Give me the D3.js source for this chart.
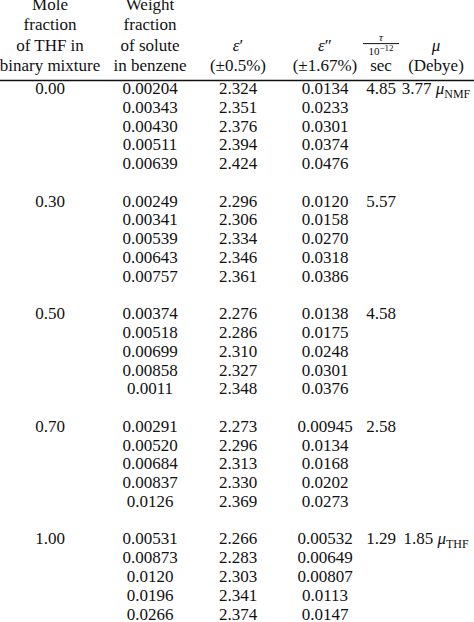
<!DOCTYPE html><html><head><meta charset="utf-8"><script src="https://cdn.jsdelivr.net/npm/d3@7"></script>
<style>body{margin:0;background:#fff}text{font-family:"Liberation Serif","Times New Roman",Times,"DejaVu Serif",serif;font-size:17px;fill:#111}</style></head><body><svg id="c" width="474" height="622"></svg><script>
const moleFractions=["0.00","0.30","0.50","0.70","1.00"];
const weightFractions=[["0.00204","0.00343","0.00430","0.00511","0.00639"],["0.00249","0.00341","0.00539","0.00643","0.00757"],["0.00374","0.00518","0.00699","0.00858","0.0011"],["0.00291","0.00520","0.00684","0.00837","0.0126"],["0.00531","0.00873","0.0120","0.0196","0.0266"]];
const epsPrime=[["2.324","2.351","2.376","2.394","2.424"],["2.296","2.306","2.334","2.346","2.361"],["2.276","2.286","2.310","2.327","2.348"],["2.273","2.296","2.313","2.330","2.369"],["2.266","2.283","2.303","2.341","2.374"]];
const epsDouble=[["0.0134","0.0233","0.0301","0.0374","0.0476"],["0.0120","0.0158","0.0270","0.0318","0.0386"],["0.0138","0.0175","0.0248","0.0301","0.0376"],["0.00945","0.0134","0.0168","0.0202","0.0273"],["0.00532","0.00649","0.00807","0.0113","0.0147"]];
const tau=["4.85","5.57","4.58","2.58","1.29"];
const mu=[["3.77","NMF"],null,null,null,["1.85","THF"]];
const cols=["mole","weight","ep","epp","tau","mu"];
const x=d3.scaleOrdinal().domain(cols).range([50,150,238,325,381,436]);
const yRow=d3.scaleLinear().domain([0,1]).range([0,18.8]);
const yGroup=d3.scaleLinear().domain([0,1]).range([94,206.6]);
const svg=d3.select("#c");
const hy=d3.scaleLinear().domain([0,1]).range([10,10+20.3]);
const headers=[["mole",["Mole","fraction","of THF in","binary mixture"]],["weight",["Weight","fraction","of solute","in benzene"]]];
headers.forEach(([k,lines])=>lines.forEach((l,i)=>svg.append("text").attr("x",x(k)).attr("y",hy(i)).attr("text-anchor","middle").text(l)));
function hdr(k,i,f){const t=svg.append("text").attr("x",x(k)).attr("y",hy(i)).attr("text-anchor","middle");f(t);}
hdr("ep",2,t=>{t.append("tspan").attr("font-style","italic").text("ε");t.append("tspan").text("′");});
hdr("ep",3,t=>t.text("(±0.5%)"));
hdr("epp",2,t=>{t.append("tspan").attr("font-style","italic").text("ε");t.append("tspan").text("″");});
hdr("epp",3,t=>t.text("(±1.67%)"));
hdr("mu",2,t=>t.attr("font-style","italic").text("μ"));
hdr("mu",3,t=>t.text("(Debye)"));
svg.append("text").attr("x",x("tau")).attr("y",hy(2)-10).attr("text-anchor","middle").style("font-size","11px").attr("font-style","italic").text("τ");
svg.append("line").attr("x1",x("tau")-18).attr("x2",x("tau")+18).attr("y1",hy(2)-7).attr("y2",hy(2)-7).attr("stroke","#111");
const tt=svg.append("text").attr("x",x("tau")).attr("y",hy(2)+4).attr("text-anchor","middle").style("font-size","11px");tt.append("tspan").text("10");tt.append("tspan").attr("dy",-4).style("font-size","9px").text("−12");
hdr("tau",3,t=>t.text("sec"));
svg.append("line").attr("x1",0).attr("x2",474).attr("y1",80.5).attr("y2",80.5).attr("stroke","#111").attr("stroke-width",1.3);
moleFractions.forEach((m,g)=>{
 const y0=yGroup(g);
 svg.append("text").attr("x",x("mole")).attr("y",y0).attr("text-anchor","middle").text(m);
 svg.append("text").attr("x",x("tau")).attr("y",y0).attr("text-anchor","middle").text(tau[g]);
 if(mu[g]){const t=svg.append("text").attr("x",x("mu")).attr("y",y0).attr("text-anchor","middle");t.append("tspan").text(mu[g][0]+" ");t.append("tspan").attr("font-style","italic").text("μ");t.append("tspan").attr("dy",4).style("font-size","12px").text(mu[g][1]);}
 [["weight",weightFractions],["ep",epsPrime],["epp",epsDouble]].forEach(([k,arr])=>arr[g].forEach((v,i)=>svg.append("text").attr("x",x(k)).attr("y",y0+yRow(i)).attr("text-anchor","middle").text(v)));
});
</script></body></html>
